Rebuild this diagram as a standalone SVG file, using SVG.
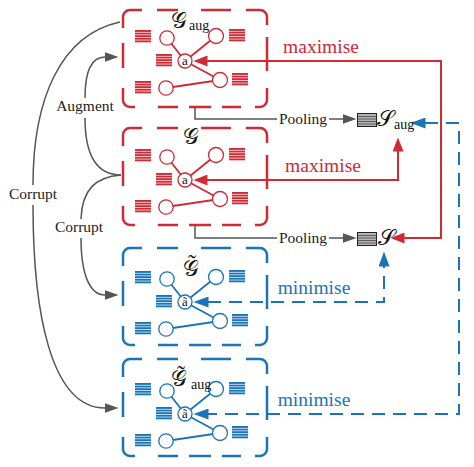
<svg xmlns="http://www.w3.org/2000/svg" xmlns:xlink="http://www.w3.org/1999/xlink" width="474" height="467" viewBox="0 0 474 467">
<style>
  .lbl { font-family: "Liberation Serif", "DejaVu Serif", serif; font-size: 15.5px; fill: #222; text-anchor: middle; }
  .big { font-family: "Liberation Serif", "DejaVu Serif", serif; font-size: 19.5px; text-anchor: middle; }
  .red { fill: #cf2a36; }
  .blue { fill: #1a74b8; }
  .gc { fill: none; stroke: #555; stroke-width: 1.5; }
  .rc { fill: none; stroke: #cf2a36; stroke-width: 2; }
  .bc { fill: none; stroke: #1a74b8; stroke-width: 2; stroke-dasharray: 13 8; }
  .ttl { font-family: "DejaVu Serif", "Liberation Serif", serif; font-size: 22px; fill: #111; }
  .sub { font-family: "Liberation Serif", serif; font-size: 14px; }
  .tl { font-family: "Liberation Serif", serif; font-size: 24px; }
  .node-a { font-family: "Liberation Serif", serif; font-size: 13px; fill: #111; text-anchor: middle; }
</style>
<defs>
  <marker id="ag" markerUnits="userSpaceOnUse" markerWidth="15" markerHeight="10" refX="0.5" refY="5" orient="auto-start-reverse" viewBox="0 0 15 10"><path d="M0,0 L14,5 L0,10 z" fill="#555"/></marker>
  <marker id="ar" markerUnits="userSpaceOnUse" markerWidth="15" markerHeight="11" refX="0.5" refY="5.5" orient="auto-start-reverse" viewBox="0 0 15 11"><path d="M0,0 L14,5.5 L0,11 z" fill="#cf2a36"/></marker>
  <marker id="ab" markerUnits="userSpaceOnUse" markerWidth="16" markerHeight="11" refX="0.5" refY="5.5" orient="auto-start-reverse" viewBox="0 0 16 11"><path d="M0,0 L15,5.5 L0,11 z" fill="#1a74b8"/></marker>
  <g id="frame" fill="none" stroke-width="2.5" stroke-linecap="butt">
    <path d="M0,18 V7 A7,7 0 0 1 7,0 H19"/>
    <path d="M34,0 H55 M78,0 H108"/>
    <path d="M123,0 H137 A7,7 0 0 1 144,7 V15"/>
    <path d="M144,27 V61"/>
    <path d="M144,78 V90 A7,7 0 0 1 137,97 H132"/>
    <path d="M118,97 H99 M88,97 H66 M55,97 H35"/>
    <path d="M12,97 H7 A7,7 0 0 1 0,90 V78"/>
    <path d="M0,33 V58"/>
  </g>
  <g id="icon">
    <rect x="0" y="0" width="16" height="1.9"/>
    <rect x="0" y="2.6" width="16" height="1.9"/>
    <rect x="0" y="5.2" width="16" height="1.9"/>
    <rect x="0" y="7.8" width="16" height="1.9"/>
    <rect x="0" y="10.4" width="16" height="1.9"/>
  </g>
  <g id="graph">
    <g fill="none" stroke-width="1.8">
      <path d="M62,51 L44,28 M62,51 L93,26 M62,51 L97,70 M43,78 L97,70"/>
    </g>
    <g stroke="none">
      <use xlink:href="#icon" x="12" y="20"/>
      <use xlink:href="#icon" x="106" y="19"/>
      <use xlink:href="#icon" x="33" y="44"/>
      <use xlink:href="#icon" x="109" y="63"/>
      <use xlink:href="#icon" x="12" y="71"/>
    </g>
    <g fill="#fff" stroke-width="1.3">
      <circle cx="44" cy="28" r="7.2"/>
      <circle cx="93" cy="26" r="7.5"/>
      <circle cx="97" cy="70" r="7.5"/>
      <circle cx="43" cy="78" r="7.2"/>
      <circle cx="62" cy="51" r="7"/>
    </g>
  </g>
</defs>

<g id="connectors">
  <!-- gray: augment / corrupt -->
  <path class="gc" d="M85,98 C85,70 92,57 105,57" marker-end="url(#ag)"/>
  <path class="gc" d="M85,118 C85,160 100,175 121,175"/>
  <path class="gc" d="M121,175 C95,177 82,190 81,219"/>
  <path class="gc" d="M81,238 C81,275 90,295 105,295" marker-end="url(#ag)"/>
  <path class="gc" d="M120,22 C60,35 33,100 33,185"/>
  <path class="gc" d="M33,205 C33,310 50,408 105,408" marker-end="url(#ag)"/>
  <!-- pooling -->
  <path class="gc" d="M195,107 V119 H277"/>
  <path class="gc" d="M329,119 H343" marker-end="url(#ag)"/>
  <path class="gc" d="M195,224 V238 H277"/>
  <path class="gc" d="M329,238 H343" marker-end="url(#ag)"/>
  <!-- red maximise -->
  <path class="rc" d="M404,238 H441 V61 H207" marker-start="url(#ar)" marker-end="url(#ar)"/>
  <path class="rc" d="M207,180 H398 V151" marker-start="url(#ar)" marker-end="url(#ar)"/>
  <!-- blue minimise -->
  <path class="bc" d="M208,302 H384 V266" marker-start="url(#ab)" marker-end="url(#ab)"/>
  <path class="bc" d="M425,123 H459 V414 H208" marker-start="url(#ab)" marker-end="url(#ab)"/>
  <!-- labels -->
  <text class="lbl" x="85" y="111">Augment</text>
  <text class="lbl" x="79" y="232">Corrupt</text>
  <text class="lbl" x="33" y="199">Corrupt</text>
  <text class="lbl" x="303" y="124">Pooling</text>
  <text class="lbl" x="303" y="243">Pooling</text>
  <text class="big red" x="321" y="53">maximise</text>
  <text class="big red" x="323" y="172">maximise</text>
  <text class="big blue" x="314" y="294">minimise</text>
  <text class="big blue" x="314" y="406">minimise</text>
</g>

<g id="node-g-aug">
  <use xlink:href="#frame" x="123" y="10" stroke="#cf2a36"/>
  <use xlink:href="#graph" x="123" y="10" stroke="#cf2a36" fill="#cf2a36"/>
  <text class="node-a" x="185" y="65">a</text>
  <text class="ttl" x="171" y="28">𝒢<tspan class="sub" x="189" y="30">aug</tspan></text>
</g>

<g id="node-g">
  <use xlink:href="#frame" x="123" y="128" stroke="#cf2a36"/>
  <use xlink:href="#graph" x="123" y="129" stroke="#cf2a36" fill="#cf2a36"/>
  <text class="node-a" x="185" y="184">a</text>
  <text class="ttl" x="191" y="144" text-anchor="middle">𝒢</text>
</g>

<g id="node-g-tilde">
  <use xlink:href="#frame" x="123" y="248" stroke="#1a74b8"/>
  <use xlink:href="#graph" x="123" y="251" stroke="#1a74b8" fill="#1a74b8"/>
  <text class="node-a" x="185" y="306">ã</text>
  <text class="ttl" x="183" y="276">𝒢<tspan class="tl" x="188" y="271">˜</tspan></text>
</g>

<g id="node-g-tilde-aug">
  <use xlink:href="#frame" x="123" y="359" stroke="#1a74b8"/>
  <use xlink:href="#graph" x="123" y="363" stroke="#1a74b8" fill="#1a74b8"/>
  <text class="node-a" x="185" y="418">ã</text>
  <text class="ttl" x="171" y="386">𝒢<tspan class="tl" x="177" y="382">˜</tspan><tspan class="sub" x="191" y="389">aug</tspan></text>
</g>

<g id="node-s-aug">
  <rect x="357.5" y="113.5" width="19" height="13" fill="#b5b5b5" stroke="#222" stroke-width="1"/>
  <path d="M358,116.5 H376 M358,119 H376 M358,121.5 H376 M358,124 H376" stroke="#444" stroke-width="0.8"/>
  <text class="ttl" x="377" y="126" font-size="18">𝒮<tspan class="sub" font-size="13" dy="3">aug</tspan></text>
</g>

<g id="node-s">
  <rect x="357.5" y="232.5" width="19" height="13" fill="#b5b5b5" stroke="#222" stroke-width="1"/>
  <path d="M358,235.5 H376 M358,238 H376 M358,240.5 H376 M358,243 H376" stroke="#444" stroke-width="0.8"/>
  <text class="ttl" x="378" y="245" font-size="18">𝒮</text>
</g>
</svg>
